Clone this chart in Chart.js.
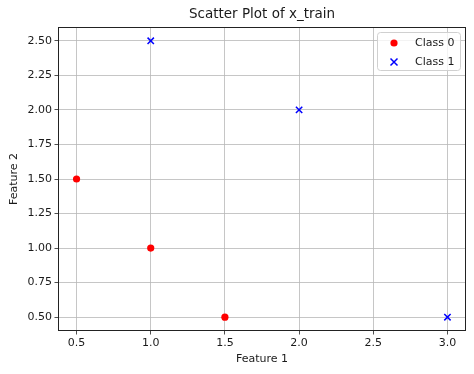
<!DOCTYPE html>
<html>
<head>
<meta charset="utf-8">
<script src="https://cdn.jsdelivr.net/npm/chart.js@4/dist/chart.umd.min.js"></script>
<style>
  html, body { margin: 0; padding: 0; background: #fff; }
  #wrap { position: relative; width: 474px; height: 374px; }
</style>
</head>
<body>
<div id="wrap"><canvas id="myChart"></canvas></div>
<script>
// data
const class0X = [0.5, 1.0, 1.5];
const class0Y = [1.5, 1.0, 0.5];
const class1X = [1.0, 2.0, 3.0];
const class1Y = [2.5, 2.0, 0.5];
const seriesNames = ["Class 0", "Class 1"];
const xRange = [0.375, 3.125];
const yRange = [0.4, 2.6];
const xStep = 0.5;
const yStep = 0.25;

const FONT = "'DejaVu Sans', sans-serif";
const gridColor = "#b8b8b8";
const textColor = "#1a1a1a";

function toPoints(xs, ys) {
    return xs.map((x, i) => ({ x: x, y: ys[i] }));
}

// frame round the plot and a matplotlib style legend box
const framePlugin = {
    id: "frame",
    afterDraw(chart) {
        const ctx = chart.ctx;
        const a = chart.chartArea;
        ctx.save();
        ctx.strokeStyle = "#222";
        ctx.lineWidth = 1;
        ctx.strokeRect(Math.round(a.left) + 0.5, Math.round(a.top) + 0.5,
            Math.round(a.right - a.left) - 1, Math.round(a.bottom - a.top) - 1);

        // legend
        const bx = a.right - 89, by = a.top + 5, bw = 83, bh = 38;
        ctx.beginPath();
        ctx.roundRect(bx + 0.5, by + 0.5, bw, bh, 3);
        ctx.fillStyle = "rgba(255,255,255,0.8)";
        ctx.fill();
        ctx.strokeStyle = "#d0d0d0";
        ctx.stroke();

        const ds = chart.data.datasets;
        ctx.font = "11px " + FONT;
        ctx.textBaseline = "middle";
        ctx.textAlign = "left";
        ds.forEach((d, i) => {
            const mx = bx + 17, my = by + 11 + i * 19;
            ctx.fillStyle = d.backgroundColor;
            ctx.strokeStyle = d.borderColor;
            if (d.pointStyle === "crossRot") {
                ctx.lineWidth = 1.5;
                ctx.beginPath();
                ctx.moveTo(mx - 3.5, my - 3.5); ctx.lineTo(mx + 3.5, my + 3.5);
                ctx.moveTo(mx - 3.5, my + 3.5); ctx.lineTo(mx + 3.5, my - 3.5);
                ctx.stroke();
            } else {
                ctx.beginPath();
                ctx.arc(mx, my, 3.6, 0, Math.PI * 2);
                ctx.fill();
            }
            ctx.fillStyle = textColor;
            ctx.fillText(d.label, bx + 38, my + 0.5);
        });
        ctx.restore();
    }
};

new Chart(document.getElementById("myChart"), {
    type: "scatter",
    data: {
        datasets: [{
            label: seriesNames[0],
            data: toPoints(class0X, class0Y),
            pointStyle: "circle",
            pointRadius: 3.6,
            backgroundColor: "#ff0000",
            borderColor: "#ff0000",
            borderWidth: 0
        }, {
            label: seriesNames[1],
            data: toPoints(class1X, class1Y),
            pointStyle: "crossRot",
            pointRadius: 4.5,
            backgroundColor: "#0000ff",
            borderColor: "#0000ff",
            borderWidth: 1.5
        }]
    },
    options: {
        responsive: true,
        maintainAspectRatio: false,
        animation: false,
        layout: { padding: { left: 0, right: 8, top: 0, bottom: 0 } },
        plugins: {
            legend: { display: false },
            tooltip: { enabled: false },
            title: {
                display: true,
                fullSize: false,
                text: "Scatter Plot of x_train",
                color: textColor,
                font: { family: FONT, size: 13.5, weight: "normal" },
                padding: { top: 6.4, bottom: 4.4 }
            }
        },
        scales: {
            x: {
                type: "linear",
                min: xRange[0],
                max: xRange[1],
                afterFit: s => { s.height = 43; },
                ticks: {
                    stepSize: xStep,
                    includeBounds: false,
                    color: textColor,
                    padding: 2.3,
                    font: { family: FONT, size: 11 },
                    callback: v => Number(v).toFixed(1)
                },
                grid: { color: gridColor, lineWidth: 0.8, tickLength: 3.5, tickColor: "#222" },
                border: { display: false },
                title: {
                    display: true,
                    text: "Feature 1",
                    color: textColor,
                    font: { family: FONT, size: 11 },
                    padding: { top: 0, bottom: 8.4 }
                }
            },
            y: {
                type: "linear",
                min: yRange[0],
                max: yRange[1],
                afterFit: s => { s.width = 58; },
                ticks: {
                    stepSize: yStep,
                    includeBounds: false,
                    color: textColor,
                    padding: 2.5,
                    font: { family: FONT, size: 11 },
                    callback: v => Number(v).toFixed(2)
                },
                grid: { color: gridColor, lineWidth: 0.8, tickLength: 3.5, tickColor: "#222" },
                border: { display: false },
                title: {
                    display: true,
                    text: "Feature 2",
                    color: textColor,
                    font: { family: FONT, size: 11 },
                    padding: { top: 7.4, bottom: 0 }
                }
            }
        }
    },
    plugins: [framePlugin]
});
</script>
</body>
</html>
